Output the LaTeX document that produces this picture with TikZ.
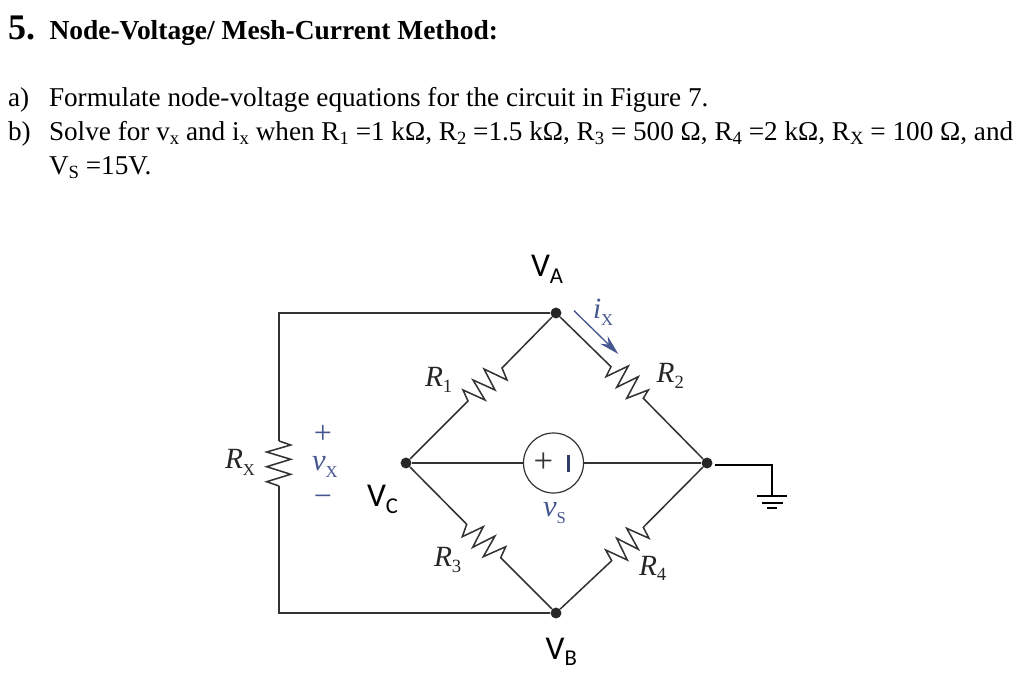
\documentclass[tikz,border=0pt]{standalone}
\usepackage{fontspec}
\setmainfont{Liberation Serif}
\newfontfamily\calib{Carlito}
\usetikzlibrary{arrows.meta}
\definecolor{wire}{HTML}{333333}
\definecolor{annot}{HTML}{46568F}
\newcommand{\bodysub}[1]{\raisebox{-2.6pt}{\fontsize{14}{15}\selectfont #1}}
\newcommand{\figR}[1]{{\fontsize{22}{24}\selectfont\itshape R}\raisebox{-4pt}{\fontsize{14}{15}\selectfont #1}}
\newcommand{\figRx}{{\fontsize{22}{24}\selectfont\itshape R}\raisebox{-5.5pt}{\fontsize{12.5}{15}\selectfont X}}
\newcommand{\figV}[1]{{\fontsize{23}{24}\selectfont\itshape v}\raisebox{-5.5pt}{\fontsize{12.5}{15}\selectfont #1}}
\newcommand{\figN}[1]{{\calib\fontsize{25}{26}\selectfont V\raisebox{-5pt}{\fontsize{17}{18}\selectfont #1}}}
\tikzset{
  x=0.75pt,y=-0.75pt,
  txt/.style={anchor=base west,inner sep=0pt,outer sep=0pt,font=\fontsize{20.4}{22}\selectfont},
  lab/.style={anchor=base west,inner sep=0pt,outer sep=0pt},
  dotnode/.style={circle,fill=black!85,draw=none,minimum size=8.2pt,inner sep=0pt},
  wirethin/.style={draw=wire,line width=1.15pt,line join=miter},
  wirethick/.style={draw=wire,line width=1.6pt},
  gnd/.style={draw=black,line width=1.6pt},
  source/.style={circle,draw=wire,line width=0.9pt,minimum size=45pt,inner sep=0pt,fill=white},
  currarrow/.style={draw=annot,line width=1pt,-{Stealth[length=15pt,width=8pt]}},
}
\begin{document}
\begin{tikzpicture}
\useasboundingbox (0,0) rectangle (1024,684);
\fill[white] (0,0) rectangle (1024,684);
% text
\node[lab,font=\bfseries\fontsize{27}{28}\selectfont] (t5) at (8,39.7) {5.};
\node[txt,font=\bfseries\fontsize{20.6}{22}\selectfont] (th) at (49.5,39.7) {Node-Voltage/ Mesh-Current Method:};
\node[txt] (ta) at (8,106.7) {a)};
\node[txt] (ta2) at (49,106.7) {Formulate node-voltage equations for the circuit in Figure 7.};
\node[txt] (tb) at (8,140.7) {b)};
\node[txt] (tb2) at (49,140.7) {Solve for v\bodysub{x} and i\bodysub{x} when R\bodysub{1} =1 kΩ, R\bodysub{2} =1.5 kΩ, R\bodysub{3} = 500 Ω, R\bodysub{4} =2 kΩ, R\bodysub{X} = 100 Ω, and};
\node[txt] (tc) at (49,174.7) {V\bodysub{S} =15V.};
% nodes
\node[dotnode] (A) at (556,313) {};
\node[dotnode] (C) at (406,463) {};
\node[dotnode] (D) at (707,463) {};
\node[dotnode] (B) at (556,613) {};
\node[source] (S) at (553.5,463) {};
% corners and resistor ends
\coordinate (tl) at (279,313);
\coordinate (bl) at (279,613);
\coordinate (rxt) at (279,441);
\coordinate (rxb) at (279,486);
\coordinate (r1a) at (468,401);
\coordinate (r1b) at (502,368);
\coordinate (r2a) at (611,366.7);
\coordinate (r2b) at (643.3,398.3);
\coordinate (r3a) at (466.7,524.3);
\coordinate (r3b) at (500.7,557.7);
\coordinate (r4a) at (643.3,527.3);
\coordinate (r4b) at (611.7,560.7);
\coordinate (g0) at (715,465);
\coordinate (g1) at (772,465);
\coordinate (g2) at (772,496);
% Rx loop
\draw[wirethick] (A) -- (tl) -- (rxt);
\draw[wirethick] (rxb) -- (bl) -- (B);
\draw[wirethin] (rxt) -- (290.7,445) -- (266.7,452) -- (290.7,459.3) -- (266.7,466.7) -- (290.7,474.3) -- (266.7,481.7) -- (rxb);
% R1
\draw[wirethin] (C) -- (r1a) -- (463,390) -- (485,400) -- (473,380) -- (495,390) -- (484,369) -- (507,380) -- (r1b) -- (A);
% R2
\draw[wirethin] (A) -- (r2a) -- (606,376.7) -- (628.3,366) -- (616.7,387.3) -- (638.3,376.7) -- (626.7,398.3) -- (648.3,390) -- (r2b) -- (D);
% R3
\draw[wirethin] (C) -- (r3a) -- (462.3,536.7) -- (483.3,526.7) -- (472.7,547.3) -- (495,536) -- (483.3,556.7) -- (505.7,546.7) -- (r3b) -- (B);
% R4
\draw[wirethin] (D) -- (r4a) -- (649,538.3) -- (626.7,528.3) -- (638.3,549.3) -- (616.7,538.3) -- (627.3,560) -- (605.7,550) -- (r4b) -- (B);
% source branch
\draw[wirethick] (C) -- (S);
\draw[wirethick] (S) -- (D);
\node[lab,anchor=center,font=\fontsize{26}{26}\selectfont,text=wire] (sp) at (543.3,463) {+};
\coordinate (sm1) at (568.5,455);
\coordinate (sm2) at (568.5,472);
\draw[draw=annot!70!black,line width=1.7pt] (sm1) -- (sm2);
% ground
\draw[gnd,line join=miter] (g0) -- (g1) -- (g2);
\coordinate (g3l) at (757,496); \coordinate (g3r) at (787,496);
\coordinate (g4l) at (762,502.7); \coordinate (g4r) at (783,502.7);
\coordinate (g5l) at (767,508); \coordinate (g5r) at (777,508);
\draw[gnd] (g3l) -- (g3r);
\draw[gnd] (g4l) -- (g4r);
\draw[gnd] (g5l) -- (g5r);
% current arrow
\coordinate (ia) at (574,310.7);
\coordinate (ib) at (618.3,354);
\draw[currarrow] (ia) -- (ib);
% labels
\node[lab,text=black!85] (lr1) at (425,386.7) {\figR{1}};
\node[lab,text=black!85] (lr2) at (656.7,382.7) {\figR{2}};
\node[lab,text=black!85] (lr3) at (434,566.7) {\figR{3}};
\node[lab,text=black!85] (lr4) at (639,575) {\figR{4}};
\node[lab,text=black!85] (lrx) at (225,468) {\figRx};
\node[lab,text=annot] (lvx) at (312,470) {\figV{X}};
\node[lab,text=annot] (lvs) at (543,516) {\figV{S}};
\node[lab,text=annot] (lix) at (593,318) {{\fontsize{22}{24}\selectfont\itshape i}\raisebox{-5.5pt}{\fontsize{12.5}{15}\selectfont X}};
\node[lab,anchor=center,text=annot,font=\fontsize{24}{24}\selectfont] (lp) at (323,434) {+};
\node[lab,anchor=center,text=annot,font=\fontsize{24}{24}\selectfont] (lm) at (323,501) {−};
\node[lab] (va) at (531,276.7) {\figN{A}};
\node[lab] (vb) at (545.7,659) {\figN{B}};
\node[lab] (vc) at (367,506.7) {\figN{C}};
\end{tikzpicture}
\end{document}
